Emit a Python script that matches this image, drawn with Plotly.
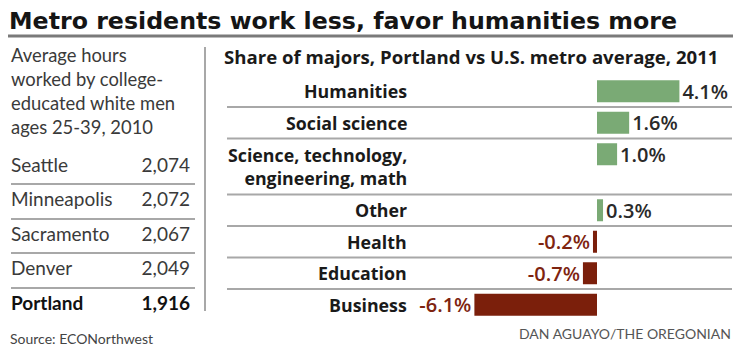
import plotly.graph_objects as go

# ---------------- data ----------------
cities = ["Seattle", "Minneapolis", "Sacramento", "Denver", "Portland"]
hours = [2074, 2072, 2067, 2049, 1916]

majors = ["Humanities", "Social science", "Science, technology,<br>engineering, math",
          "Other", "Health", "Education", "Business"]
share_diff = [4.1, 1.6, 1.0, 0.3, -0.2, -0.7, -6.1]

title = "Metro residents work less, favor humanities more"
left_sub = "Average hours<br>worked by college-<br>educated white men<br>ages 25-39, 2010"
right_sub = "Share of majors, Portland vs U.S. metro average, 2011"
source = "Source: ECONorthwest"
credit = "DAN AGUAYO/THE OREGONIAN"

# ---------------- styling / layout ----------------
OFF = 8                      # page body margin
W, H = 748 - OFF, 357 - OFF
GREEN = "#7aaa75"
RED = "#7b1f0b"
RED_TXT = "#7e2410"
DARK = "#2a2a2a"
RULE = "#a8a8a8"
FONT = "Lato"
BOLD = "Open Sans"


def px_x(p):
    return (p - OFF) / W


def px_y(p):
    return 1 - (p - OFF) / H


# row spans for the bar panel (science row holds two label lines)
row_span = [1, 1, 1.78, 1, 1, 1, 1]
tops = []
acc = 0
for s in row_span:
    tops.append(acc)
    acc += s
total = acc
bar_y = [t + 0.5 for t in tops]
label_y = [t + s / 2 for t, s in zip(tops, row_span)]

fig = go.Figure()

fig.add_trace(go.Bar(
    x=share_diff, y=bar_y, orientation="h", width=0.7,
    marker=dict(color=[GREEN if v > 0 else RED for v in share_diff], line=dict(width=0)),
    text=[f"{v:.1f}%" for v in share_diff],
    textposition="outside", constraintext="none", cliponaxis=False,
    textfont=dict(family=BOLD, size=20, weight=600,
                  color=[DARK if v > 0 else RED_TXT for v in share_diff]),
    hoverinfo="skip", xaxis="x", yaxis="y", showlegend=False,
))

# table
TBL = 19
fig.add_trace(go.Scatter(
    x=[0] * len(cities), y=cities, mode="text",
    text=[f"<b>{c}</b>" if c == "Portland" else c for c in cities],
    textposition="middle right",
    textfont=dict(family=FONT, size=TBL,
                  color=["#111" if c == "Portland" else "#3a3a3a" for c in cities]),
    xaxis="x2", yaxis="y2", cliponaxis=False, showlegend=False, hoverinfo="skip",
))
fig.add_trace(go.Scatter(
    x=[1] * len(cities), y=cities, mode="text",
    text=[f"<b>{h:,}</b>" if c == "Portland" else f"{h:,}" for c, h in zip(cities, hours)],
    textposition="middle left",
    textfont=dict(family=FONT, size=TBL,
                  color=["#111" if c == "Portland" else "#3a3a3a" for c in cities]),
    xaxis="x2", yaxis="y2", cliponaxis=False, showlegend=False, hoverinfo="skip",
))

zero_px, scale = 597, 20.1
x_lo = (410 - zero_px) / scale
x_hi = (732 - zero_px) / scale
unit_px = 31.5
top_px = 107 - unit_px
bot_px = top_px + total * unit_px

shapes = []
# title rule
shapes.append(dict(type="line", xref="paper", yref="paper",
                   x0=px_x(8), x1=px_x(733), y0=px_y(36), y1=px_y(36),
                   line=dict(color="#7a7a7a", width=3)))
# vertical divider
shapes.append(dict(type="line", xref="paper", yref="paper",
                   x0=px_x(205), x1=px_x(205), y0=px_y(47), y1=px_y(311),
                   line=dict(color=RULE, width=2)))
# bar-panel row separators
for t in tops[1:]:
    shapes.append(dict(type="line", xref="paper", yref="y",
                       x0=px_x(227), x1=px_x(732), y0=t, y1=t,
                       line=dict(color=RULE, width=2)))

annotations = [
    dict(text=f"<b>{title}</b>", x=px_x(7), y=px_y(21), xref="paper", yref="paper",
         xanchor="left", yanchor="middle", showarrow=False,
         font=dict(family="DejaVu Sans", size=23.7, color="#151515")),
    dict(text=left_sub, x=px_x(9), y=px_y(91), xref="paper", yref="paper",
         xanchor="left", yanchor="middle", showarrow=False, align="left",
         font=dict(family=FONT, size=18.4, color="#3a3a3a")),
    dict(text=f"<b>{right_sub}</b>", x=px_x(222), y=px_y(57), xref="paper", yref="paper",
         xanchor="left", yanchor="middle", showarrow=False,
         font=dict(family=BOLD, size=18.6, color="#1a1a1a")),
    dict(text=source, x=px_x(8), y=px_y(338), xref="paper", yref="paper",
         xanchor="left", yanchor="middle", showarrow=False,
         font=dict(family=FONT, size=14, color="#444")),
    dict(text=credit, x=px_x(733), y=px_y(333), xref="paper", yref="paper",
         xanchor="right", yanchor="middle", showarrow=False,
         font=dict(family=FONT, size=14, color="#555")),
]
for m, ly in zip(majors, label_y):
    annotations.append(dict(text=f"<b>{m}</b>", x=px_x(409), y=ly, xref="paper", yref="y",
                            xanchor="right", yanchor="middle", showarrow=False, align="right",
                            font=dict(family=BOLD, size=17.8, color="#1a1a1a")))

fig.update_layout(
    width=W, height=H, margin=dict(l=0, r=0, t=0, b=0),
    paper_bgcolor="white", plot_bgcolor="rgba(0,0,0,0)",
    font=dict(family=FONT),
    xaxis=dict(domain=[px_x(410), px_x(732)], range=[x_lo, x_hi], visible=False, fixedrange=True),
    yaxis=dict(domain=[px_y(bot_px), px_y(top_px)], range=[total, 0], visible=False, fixedrange=True),
    xaxis2=dict(domain=[px_x(11), px_x(195)], range=[0, 1.028], visible=False, anchor="y2"),
    yaxis2=dict(domain=[px_y(320.5), px_y(151.5)], type="category",
                categoryorder="array", categoryarray=cities,
                range=[len(cities) - 0.55, -0.45], tickson="boundaries",
                showgrid=True, gridcolor=RULE, gridwidth=1.5, showticklabels=False,
                ticks="", zeroline=False, showline=False, anchor="x2"),
    shapes=shapes, annotations=annotations,
    showlegend=False,
)

fig.write_html("out.html")
